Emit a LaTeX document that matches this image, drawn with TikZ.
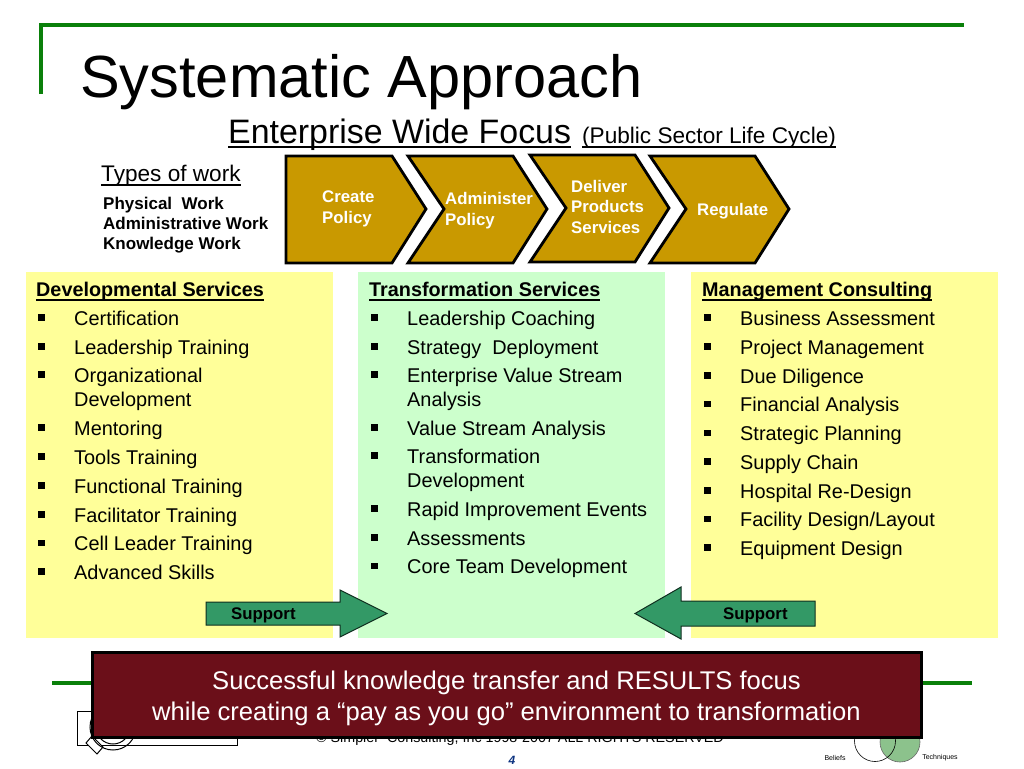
\documentclass[tikz,border=0pt]{standalone}
\usepackage{fontspec}
\setmainfont{Liberation Sans}
\definecolor{rule}{rgb}{0.04, 0.5, 0.04}
\definecolor{gold}{rgb}{0.79, 0.6, 0.0}
\definecolor{paleyellow}{rgb}{1.0, 1.0, 0.6}
\definecolor{palegreen}{rgb}{0.8, 1.0, 0.8}
\definecolor{support}{rgb}{0.2, 0.6, 0.4}
\definecolor{maroon}{rgb}{0.42, 0.06, 0.1}
\definecolor{vennfill}{rgb}{0.55, 0.76, 0.55}
\definecolor{pagenum}{rgb}{0.05, 0.2, 0.5}
\newlength{\ulwd}
\newcommand{\sz}[1]{\fontsize{#1}{#1}\selectfont}
\newcommand{\blt}{\llap{\raisebox{4.5pt}{\rule{6.5pt}{6.5pt}}\hspace{29.5pt}}}
\newcommand{\ul}[1]{\settowidth{\ulwd}{#1}\rlap{\rule[-4.6pt]{\ulwd}{1.8pt}}#1}
\tikzstyle{txt} = [anchor=base west,inner sep=0pt,align=left]
\tikzstyle{item} = [txt,font=\fontsize{19.9}{24}\selectfont]
\tikzstyle{head} = [txt,font=\fontsize{19.8}{24}\bfseries]
\tikzstyle{work} = [txt,font=\fontsize{17}{20}\bfseries]
\tikzstyle{stepbox} = [draw=black,line width=2.8pt,fill=gold,line join=miter]
\tikzstyle{steptxt} = [txt,text=white,font=\fontsize{16.8}{20.5}\bfseries]
\tikzstyle{panel} = [inner sep=0pt,anchor=north west,minimum width=307pt,minimum height=366pt]
\tikzstyle{arrowbox} = [draw=black!70!support,line width=1pt,fill=support]
\tikzstyle{supporttxt} = [txt,font=\fontsize{16.8}{20}\bfseries]
\begin{document}
\begin{tikzpicture}[x=1pt,y=-1pt]
		\useasboundingbox (0,0) rectangle (1024,768);
		% header
		\draw[rule,line width=4pt](41,94)--(41,25)--(964,25);
		\node[txt,font=\sz{59.5}](title) at (80,97){Systematic Approach};
		\node[txt,font=\sz{33.9}](focus) at (228,143){\ul{Enterprise Wide Focus}};
		\node[txt,font=\sz{22.6}](cycle) at (582,143){\ul{(Public Sector Life Cycle)}};
		\node[txt,font=\sz{22.6}](types) at (101,181){\ul{Types of work}};
		\node[work](physical) at (103,209.5){Physical\ \ Work};
		\node[work,yshift=-20pt](admin) at (physical.base west){Administrative Work};
		\node[work,yshift=-20pt](knowledge) at (admin.base west){Knowledge Work};

		% value chain
		\draw[stepbox](286,156)--(392,156)--(426,209)--(392,263)--(286,263)--cycle;
		\draw[stepbox](408,156)--(513,156)--(547,209)--(513,263)--(408,263)--(444,209)--cycle;
		\draw[stepbox](530,155)--(635,155)--(669,208)--(635,262)--(530,262)--(566,208)--cycle;
		\draw[stepbox](650,156)--(755,156)--(789,209)--(755,263)--(650,263)--(686,209)--cycle;
		\node[steptxt](create) at (322,223){Create\\Policy};
		\node[steptxt](administer) at (445,225){Administer\\Policy};
		\node[steptxt](deliver) at (571,233){Deliver\\Products\\Services};
		\node[steptxt](regulate) at (697,215){Regulate};

		% panels
		\node[panel,fill=paleyellow](left) at (26,272){};
		\node[panel,fill=palegreen](middle) at (358,272){};
		\node[panel,fill=paleyellow](right) at (691,272){};

		\node[head](devhead) at (36,296){\ul{Developmental Services}};
		\node[item](d1) at (74,325){\blt Certification};
		\node[item,yshift=-29pt](d2) at (d1.base west){\blt Leadership Training};
		\node[item,yshift=-52pt](d3) at (d2.base west){\blt Organizational\\Development};
		\node[item,yshift=-29pt](d4) at (d3.base west){\blt Mentoring};
		\node[item,yshift=-29pt](d5) at (d4.base west){\blt Tools Training};
		\node[item,yshift=-29pt](d6) at (d5.base west){\blt Functional Training};
		\node[item,yshift=-29pt](d7) at (d6.base west){\blt Facilitator Training};
		\node[item,yshift=-28.5pt](d8) at (d7.base west){\blt Cell Leader Training};
		\node[item,yshift=-28.5pt](d9) at (d8.base west){\blt Advanced Skills};

		\node[head](transhead) at (369,296){\ul{Transformation Services}};
		\node[item](t1) at (407,325){\blt Leadership Coaching};
		\node[item,yshift=-29pt](t2) at (t1.base west){\blt Strategy\ \ Deployment};
		\node[item,yshift=-52pt](t3) at (t2.base west){\blt Enterprise Value Stream\\Analysis};
		\node[item,yshift=-29pt](t4) at (t3.base west){\blt Value Stream Analysis};
		\node[item,yshift=-52pt](t5) at (t4.base west){\blt Transformation\\Development};
		\node[item,yshift=-29pt](t6) at (t5.base west){\blt Rapid Improvement Events};
		\node[item,yshift=-29pt](t7) at (t6.base west){\blt Assessments};
		\node[item,yshift=-28.5pt](t8) at (t7.base west){\blt Core Team Development};

		\node[head](mgmthead) at (702,296){\ul{Management Consulting}};
		\node[item](m1) at (740,325){\blt Business Assessment};
		\node[item,yshift=-29pt](m2) at (m1.base west){\blt Project Management};
		\node[item,yshift=-29pt](m3) at (m2.base west){\blt Due Diligence};
		\node[item,yshift=-28.5pt](m4) at (m3.base west){\blt Financial Analysis};
		\node[item,yshift=-29pt](m5) at (m4.base west){\blt Strategic Planning};
		\node[item,yshift=-28.5pt](m6) at (m5.base west){\blt Supply Chain};
		\node[item,yshift=-29pt](m7) at (m6.base west){\blt Hospital Re-Design};
		\node[item,yshift=-28.5pt](m8) at (m7.base west){\blt Facility Design/Layout};
		\node[item,yshift=-28.5pt](m9) at (m8.base west){\blt Equipment Design};

		% support arrows
		\draw[arrowbox](206,602)--(340,602)--(340,590)--(387,613.5)--(340,637)--(340,625)--(206,625)--cycle;
		\draw[arrowbox](815,601)--(681,601)--(681,587)--(635,613.5)--(681,639)--(681,626)--(815,626)--cycle;
		\node[supporttxt](supportl) at (231,619.5){Support};
		\node[supporttxt](supportr) at (723,619.5){Support};

		% footer
		\draw[rule,line width=4pt](52,683)--(972,683);
		\draw[black,line width=1pt,fill=white](77,711) rectangle (237,745);
		\draw[black,line width=1pt,fill=white](86,743)--(97,754)--(103,747)--(92,736)--cycle;
		\draw[black,line width=1pt](113,727) circle (23);
		\draw[black,line width=1pt](113,727) circle (17);
		\node[inner sep=0pt,font=\sz{14.3}](copyright) at (520,738.5){© Simpler\ \ Consulting, Inc 1998-2007 ALL RIGHTS RESERVED};
		\node[inner sep=0pt,text=pagenum,font=\fontsize{12}{12}\bfseries\itshape](page) at (512,760){4};
		\draw[black!60,line width=.6pt,fill=vennfill](900,742) circle (20);
		\draw[black,line width=.6pt](875,741) circle (20.5);
		\node[inner sep=0pt,font=\sz{7}](beliefs) at (835,758){Beliefs};
		\node[inner sep=0pt,font=\sz{7}](techniques) at (940,758){Techniques};

		\node[draw=black,line width=3pt,fill=maroon,inner sep=0pt,minimum width=829pt,minimum height=85pt](result) at (506.5,694.5){};
		\node[inner sep=0pt,text=white,align=center,font=\fontsize{25.6}{31}\selectfont,yshift=-3.5pt](message) at (result){Successful knowledge transfer and RESULTS focus\\while creating a “pay as you go” environment to transformation};
\end{tikzpicture}
\end{document}
